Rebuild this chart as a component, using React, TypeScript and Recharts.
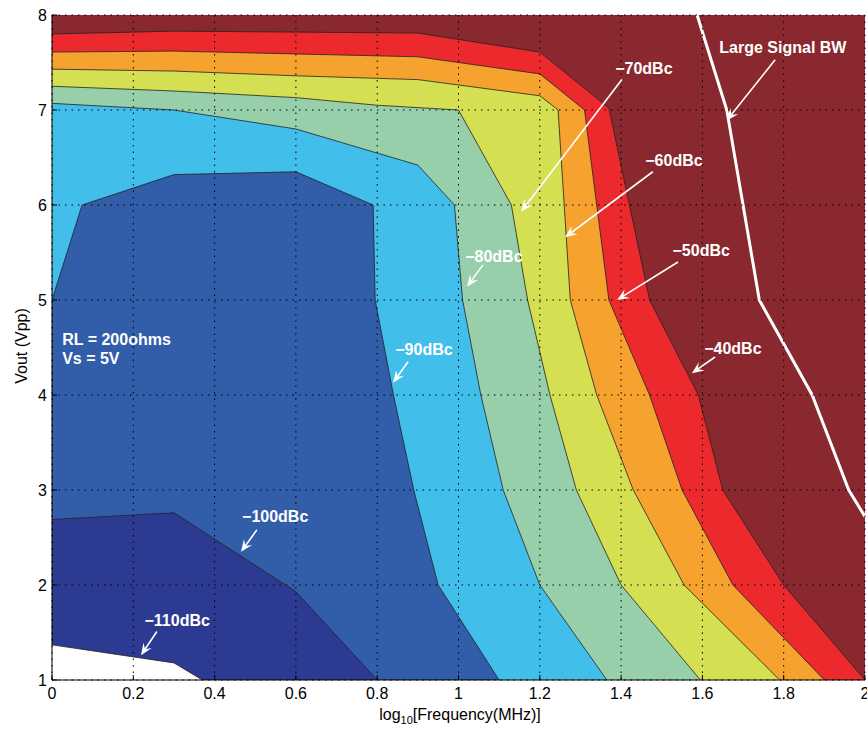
import React from "react";
import {
  ComposedChart,
  Area,
  Line,
  XAxis,
  YAxis,
  CartesianGrid,
  ReferenceLine,
  ReferenceDot,
} from "recharts";

const xTicks = [0, 0.2, 0.4, 0.6, 0.8, 1, 1.2, 1.4, 1.6, 1.8, 2];
const yTicks = [1, 2, 3, 4, 5, 6, 7, 8];

// contour boundaries: x = log10(f/MHz), y = Vout (Vpp)
const topEdge = [
  { x: 0, y: 8 },
  { x: 2, y: 8 },
];
const c40 = [
  { x: 0, y: 7.8 }, { x: 0.3, y: 7.83 }, { x: 0.9, y: 7.81 }, { x: 1.2, y: 7.61 },
  { x: 1.37, y: 7.02 }, { x: 1.47, y: 5.0 }, { x: 1.59, y: 4.0 }, { x: 1.65, y: 3.0 },
  { x: 1.8, y: 2.0 }, { x: 2.0, y: 1.0 },
];
const c50 = [
  { x: 0, y: 7.61 }, { x: 0.3, y: 7.62 }, { x: 0.6, y: 7.59 }, { x: 0.9, y: 7.56 },
  { x: 1.2, y: 7.38 }, { x: 1.31, y: 7.0 }, { x: 1.37, y: 5.0 }, { x: 1.47, y: 4.0 },
  { x: 1.55, y: 3.0 }, { x: 1.675, y: 2.0 }, { x: 1.9, y: 1.0 },
];
const c60 = [
  { x: 0, y: 7.43 }, { x: 0.3, y: 7.41 }, { x: 0.6, y: 7.36 }, { x: 0.9, y: 7.32 },
  { x: 1.2, y: 7.15 }, { x: 1.245, y: 7.0 }, { x: 1.275, y: 5.0 }, { x: 1.34, y: 4.0 },
  { x: 1.43, y: 3.0 }, { x: 1.555, y: 2.0 }, { x: 1.79, y: 1.0 },
];
const c70 = [
  { x: 0, y: 7.25 }, { x: 0.3, y: 7.2 }, { x: 0.6, y: 7.13 }, { x: 0.8, y: 7.05 },
  { x: 1.0, y: 7.0 }, { x: 1.13, y: 6.0 }, { x: 1.17, y: 5.0 }, { x: 1.225, y: 4.0 },
  { x: 1.29, y: 3.0 }, { x: 1.4, y: 2.0 }, { x: 1.595, y: 1.0 },
];
const c80 = [
  { x: 0, y: 7.07 }, { x: 0.3, y: 7.0 }, { x: 0.6, y: 6.8 }, { x: 0.9, y: 6.42 },
  { x: 0.99, y: 6.0 }, { x: 1.01, y: 5.0 }, { x: 1.055, y: 4.0 }, { x: 1.11, y: 3.0 },
  { x: 1.2, y: 2.0 }, { x: 1.365, y: 1.0 },
];
const c90 = [
  { x: 0, y: 5.0 }, { x: 0.074, y: 6.0 }, { x: 0.3, y: 6.32 }, { x: 0.6, y: 6.35 },
  { x: 0.79, y: 6.0 }, { x: 0.795, y: 5.0 }, { x: 0.84, y: 4.0 }, { x: 0.89, y: 3.0 },
  { x: 0.95, y: 2.0 }, { x: 1.1, y: 1.0 },
];
const c100 = [
  { x: 0, y: 2.69 }, { x: 0.3, y: 2.76 }, { x: 0.6, y: 1.93 }, { x: 0.8, y: 1.0 },
];
const c110 = [
  { x: 0, y: 1.37 }, { x: 0.3, y: 1.18 }, { x: 0.37, y: 1.0 },
];
const bandwidth = [
  { x: 1.587, y: 8 }, { x: 1.66, y: 7 }, { x: 1.74, y: 5 }, { x: 1.87, y: 4 },
  { x: 1.96, y: 3 }, { x: 2.0, y: 2.72 },
];

const bands = [
  { data: topEdge, fill: "#89282e" },
  { data: c40, fill: "#ec2a2e" },
  { data: c50, fill: "#f6a22e" },
  { data: c60, fill: "#d5df52" },
  { data: c70, fill: "#96cfaa" },
  { data: c80, fill: "#42beeb" },
  { data: c90, fill: "#325da9" },
  { data: c100, fill: "#2c3a91" },
  { data: c110, fill: "#ffffff" },
];

// annotation text + arrow (from -> tip), in data units
const notes = [
  { text: "\u221270dBc", tx: 1.456, ty: 7.44, ax: 1.402, ay: 7.32, bx: 1.154, by: 5.93 },
  { text: "\u221260dBc", tx: 1.53, ty: 6.47, ax: 1.478, ay: 6.35, bx: 1.262, by: 5.66 },
  { text: "\u221250dBc", tx: 1.597, ty: 5.52, ax: 1.54, ay: 5.4, bx: 1.39, by: 5.0 },
  { text: "\u221240dBc", tx: 1.675, ty: 4.49, ax: 1.631, ay: 4.4, bx: 1.574, by: 4.23 },
  { text: "\u221280dBc", tx: 1.087, ty: 5.46, ax: 1.06, ay: 5.37, bx: 1.021, by: 5.14 },
  { text: "\u221290dBc", tx: 0.915, ty: 4.48, ax: 0.876, ay: 4.35, bx: 0.839, by: 4.13 },
  { text: "\u2212100dBc", tx: 0.549, ty: 2.72, ax: 0.504, ay: 2.58, bx: 0.465, by: 2.35 },
  { text: "\u2212110dBc", tx: 0.308, ty: 1.63, ax: 0.258, ay: 1.51, bx: 0.219, by: 1.26 },
  { text: "Large Signal BW", tx: 1.798, ty: 7.66, ax: 1.779, ay: 7.53, bx: 1.66, by: 6.89 },
];

const conditions = ["RL = 200ohms", "Vs = 5V"];
const conditionY = [4.53, 4.33];

const FONT = "'Liberation Sans', Arial, Helvetica, sans-serif";

const Arrow = (p: any) => {
  const { x1, y1, x2, y2 } = p;
  const a = Math.atan2(y2 - y1, x2 - x1);
  const len = 12;
  const half = 5;
  const cx = Math.cos(a);
  const sy = Math.sin(a);
  const bx = x2 - len * cx;
  const by = y2 - len * sy;
  const nx = -sy;
  const ny = cx;
  const mx = x2 - len * 0.6 * cx;
  const my = y2 - len * 0.6 * sy;
  const pts = `${x2},${y2} ${bx + nx * half},${by + ny * half} ${mx},${my} ${bx - nx * half},${by - ny * half}`;
  return (
    <g>
      <line x1={x1} y1={y1} x2={mx} y2={my} stroke="#fff" strokeWidth={1.6} />
      <polygon points={pts} fill="#fff" />
    </g>
  );
};

const noteText = (text: string, anchor: "middle" | "start" = "middle") => (p: any) =>
  (
    <text
      x={p.cx}
      y={p.cy}
      textAnchor={anchor}
      dominantBaseline={anchor === "middle" ? "central" : "auto"}
      fill="#fff"
      fontFamily={FONT}
      fontWeight="bold"
      fontSize={16}
    >
      {text}
    </text>
  );

const XTitle = () => (
  <text x={460} y={720} textAnchor="middle" fontFamily={FONT} fontSize={16} fill="#000">
    log
    <tspan fontSize={11} dy={4}>10</tspan>
    <tspan dy={-4}>[Frequency(MHz)]</tspan>
  </text>
);

const YTitle = () => (
  <text
    x={27}
    y={346}
    transform="rotate(-90 27 346)"
    textAnchor="middle"
    fontFamily={FONT}
    fontSize={16}
    fill="#000"
  >
    Vout (Vpp)
  </text>
);

export default function App() {
  const tickStyle = { fill: "#000", fontSize: 16, fontFamily: FONT };
  return (
    <div style={{ position: "absolute", left: 0, top: 0, width: 867, height: 730, background: "#fff" }}>
      <ComposedChart width={867} height={730} margin={{ top: 15, right: 2, bottom: 0, left: 0 }}>
        <XAxis
          type="number"
          dataKey="x"
          domain={[0, 2]}
          ticks={xTicks}
          interval={0}
          allowDataOverflow
          height={50}
          tickSize={-5}
          tickMargin={13}
          tick={tickStyle}
          stroke="#000"
          label={<XTitle />}
        />
        <XAxis
          xAxisId="top"
          orientation="top"
          type="number"
          dataKey="x"
          domain={[0, 2]}
          ticks={xTicks}
          interval={0}
          allowDataOverflow
          height={0}
          tickSize={-5}
          tick={false}
          stroke="#000"
        />
        <YAxis
          type="number"
          dataKey="y"
          domain={[1, 8]}
          ticks={yTicks}
          interval={0}
          allowDataOverflow
          width={52}
          tickSize={-5}
          tickMargin={10}
          tick={tickStyle}
          stroke="#000"
          label={<YTitle />}
        />
        <YAxis
          yAxisId="right"
          orientation="right"
          type="number"
          dataKey="y"
          domain={[1, 8]}
          ticks={yTicks}
          interval={0}
          allowDataOverflow
          width={0}
          tickSize={-5}
          tick={false}
          stroke="#000"
        />
        {bands.map((b, i) => (
          <Area
            key={i}
            data={b.data}
            dataKey="y"
            type="linear"
            baseValue="dataMin"
            fill={b.fill}
            fillOpacity={1}
            stroke={i === 0 ? "none" : "#222"}
            strokeWidth={0.8}
            isAnimationActive={false}
            dot={false}
            activeDot={false}
          />
        ))}
        <Line
          data={bandwidth}
          dataKey="y"
          type="linear"
          stroke="#fff"
          strokeWidth={3}
          dot={false}
          activeDot={false}
          isAnimationActive={false}
        />
        <CartesianGrid stroke="#000" strokeDasharray="1.5 5" strokeWidth={1} zIndex={500} />
        {notes.map((n, i) => (
          <ReferenceLine
            key={"a" + i}
            segment={[{ x: n.ax, y: n.ay }, { x: n.bx, y: n.by }]}
            shape={Arrow}
            zIndex={2000}
          />
        ))}
        {notes.map((n, i) => (
          <ReferenceDot
            key={"t" + i}
            x={n.tx}
            y={n.ty}
            r={1}
            shape={noteText(n.text)}
            zIndex={2000}
          />
        ))}
        {conditions.map((c, i) => (
          <ReferenceDot
            key={"c" + i}
            x={0.025}
            y={conditionY[i]}
            r={1}
            shape={noteText(c, "start")}
            zIndex={2000}
          />
        ))}
      </ComposedChart>
    </div>
  );
}
